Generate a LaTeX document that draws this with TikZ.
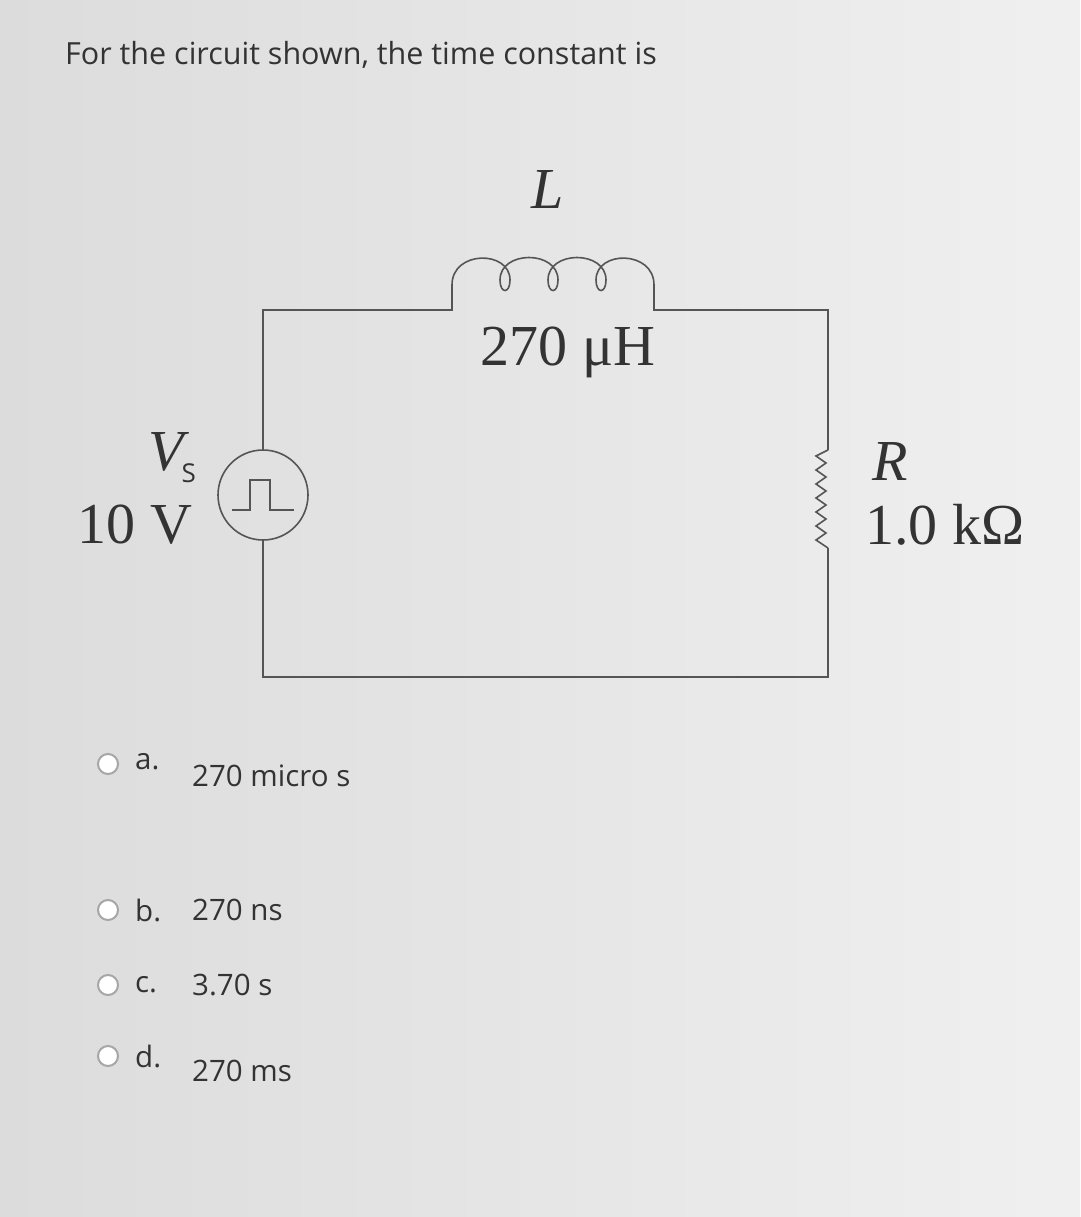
\documentclass[tikz,border=0pt]{standalone}
\usepackage{fontspec}
\setmainfont{Liberation Serif}
\newfontfamily\uisans{Open Sans}
\definecolor{bgc}{HTML}{DCDCDC}
\definecolor{wire}{HTML}{555555}
\definecolor{txt}{HTML}{333333}
\tikzset{w/.style={draw=wire,line width=1.6pt},
ui/.style={font=\uisans\fontsize{29.5}{31}\selectfont,text=txt,anchor=west,inner sep=0},
lab/.style={font=\fontsize{58}{60}\selectfont,text=txt,inner sep=0},
radio/.style={circle,draw=gray!70,fill=white,line width=2pt,minimum size=20pt,inner sep=0}}
\begin{document}
\begin{tikzpicture}[x=1pt,y=-1pt]
\fill[left color=bgc,right color=gray!12] (0,0) rectangle (1080,1217);
\useasboundingbox (0,0) rectangle (1080,1217);
\node[ui,font=\uisans\fontsize{30.5}{32}\selectfont] (title) at (65,55) {For the circuit shown, the time constant is};
% circuit
\coordinate (tl) at (263,310); \coordinate (tr) at (828,310);
\coordinate (bl) at (263,677); \coordinate (br) at (828,677);
\coordinate (l1) at (452,310); \coordinate (l2) at (654,310);
\coordinate (r1) at (828,450); \coordinate (r2) at (828,548);
\node[circle,draw=wire,line width=1.6pt,minimum size=90pt,inner sep=0] (src) at (263,495) {};
\draw[w] (src.north) -- (tl) -- (l1) -- (452,285)
  \foreach \i in {0,1,2} {
    .. controls (452+48*\i,250) and (510+48*\i,250) .. (510+48*\i,280)
    .. controls (510+48*\i,294) and (500+48*\i,294) .. (500+48*\i,280)
  }
  .. controls (596,250) and (654,250) .. (654,285) -- (l2) -- (tr) -- (r1);
\draw[w] (r1) -- (816,456) -- (826,463) -- (816,470) -- (826,477) -- (816,484) -- (826,491) -- (816,498) -- (826,505) -- (816,512) -- (826,519) -- (816,526) -- (826,533) -- (816,540) -- (r2);
\draw[w] (r2) -- (br) -- (bl) -- (src.south);
\draw[w,line width=1.4pt] (232,510) -- (250,510) -- (250,480) -- (270,480) -- (270,510) -- (294,510);
\node[lab,font=\itshape\fontsize{58}{60}\selectfont] (L) at (548,190) {L};
\node[lab] (Lv) at (568,352) {270 μH};
\node[lab,font=\itshape\fontsize{58}{60}\selectfont] (Vs) at (172,458) {V\kern-2pt\raisebox{-12pt}{\uisans\upshape\fontsize{26}{26}\selectfont S}};
\node[lab] (Vv) at (135,525) {10 V};
\node[lab,font=\itshape\fontsize{58}{60}\selectfont] (R) at (890,462) {R};
\node[lab] (Rv) at (945,525) {1.0 kΩ};
% options
\node[radio] (ra) at (108,764) {}; \node[ui] (la) at (135,762) {a.}; \node[ui] (ta) at (192,776) {270 micro s};
\node[radio] (rb) at (108,910) {}; \node[ui] (lb) at (135,910) {b.}; \node[ui] (tb) at (192,910) {270 ns};
\node[radio] (rc) at (108,985) {}; \node[ui] (lc) at (135,985) {c.}; \node[ui] (tc) at (192,985) {3.70 s};
\node[radio] (rd) at (108,1056) {}; \node[ui] (ld) at (135,1056) {d.}; \node[ui] (td) at (192,1071) {270 ms};
\end{tikzpicture}
\end{document}
